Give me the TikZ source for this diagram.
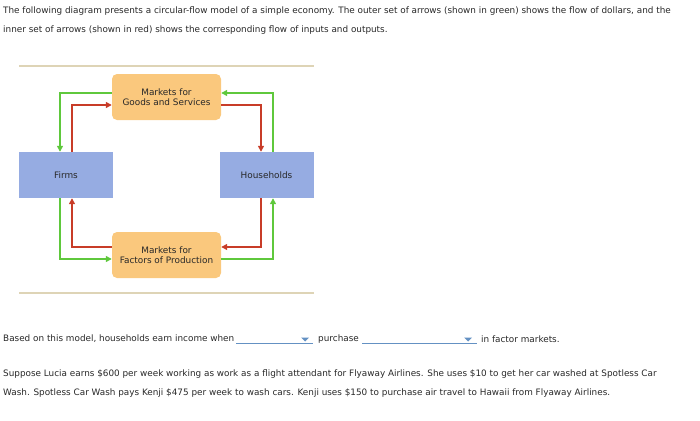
\documentclass[tikz,border=0pt]{standalone}
\usepackage{fontspec}
\setmainfont{DejaVu Sans}
\usetikzlibrary{arrows.meta}
\definecolor{sand}{RGB}{222,212,182}
\definecolor{boxor}{RGB}{250,200,125}
\definecolor{boxbl}{RGB}{150,172,226}
\definecolor{grn}{RGB}{95,200,60}
\definecolor{rd}{RGB}{200,60,40}
\definecolor{dd}{RGB}{100,145,195}
\definecolor{ink}{RGB}{40,40,40}
\tikzset{
 txt/.style={anchor=west,inner sep=0pt,text=ink,font=\fontsize{8.85}{10}\selectfont},
 mkt/.style={fill=boxor,rounded corners=5pt,minimum width=109pt,minimum height=46pt,align=center,text=ink,font=\fontsize{8.9}{10.5}\selectfont,inner sep=0pt},
 agent/.style={fill=boxbl,minimum width=94pt,minimum height=46pt,text=ink,font=\fontsize{8.9}{10}\selectfont,inner sep=0pt},
 gflow/.style={draw=grn,line width=1.4pt,-{Triangle[length=6pt,width=6pt]}},
 rflow/.style={draw=rd,line width=1.4pt,-{Triangle[length=6pt,width=6pt]}},
 sandline/.style={draw=sand,line width=2.4pt},
 ddline/.style={draw=dd,line width=0.7pt}
}
\begin{document}
\begin{tikzpicture}[x=1pt,y=-1pt]
\useasboundingbox (0,0) rectangle (700,420);
\node[txt] (t1) at (3,11) {The following diagram presents a circular-flow model of a simple economy. The outer set of arrows (shown in green) shows the flow of dollars, and the};
\node[txt] (t2) at (3,30) {inner set of arrows (shown in red) shows the corresponding flow of inputs and outputs.};
\draw[sandline] (19,66) -- (314,66);
\draw[sandline] (19,293) -- (314,293);
\node[mkt] (gs) at (166.5,97) {Markets for\\Goods and Services};
\node[mkt] (fp) at (166.5,255) {Markets for\\Factors of Production};
\node[agent] (firms) at (66,175) {Firms};
\node[agent] (hh) at (266.5,175) {Households};
% top left
\draw[gflow] (gs.west |- 0,93) -| (firms.north -| 60,0);
\draw[rflow] (firms.north -| 72,0) |- (gs.west |- 0,105);
% top right
\draw[rflow] (gs.east |- 0,105) -| (hh.north -| 261,0);
\draw[gflow] (hh.north -| 273,0) |- (gs.east |- 0,93);
% bottom left
\draw[rflow] (fp.west |- 0,247) -| (firms.south -| 72,0);
\draw[gflow] (firms.south -| 60,0) |- (fp.west |- 0,259);
% bottom right
\draw[rflow] (hh.south -| 261,0) |- (fp.east |- 0,247);
\draw[gflow] (fp.east |- 0,259) -| (hh.south -| 273,0);
% question line
\node[txt] (q1) at (3,339) {Based on this model, households earn income when};
\coordinate (d1a) at (236,343); \coordinate (d1b) at (313,343);
\draw[ddline] (d1a) -- (d1b);
\fill[dd] (301,337.5) -- (309,337.5) -- (305,341.5) -- cycle;
\node[txt] (q2) at (318,339) {purchase};
\coordinate (d2a) at (362,343); \coordinate (d2b) at (477,343);
\draw[ddline] (d2a) -- (d2b);
\fill[dd] (464,337.5) -- (472,337.5) -- (468,341.5) -- cycle;
\node[txt] (q3) at (481,339) {in factor markets.};
\node[txt] (s1) at (3,374) {Suppose Lucia earns \$600 per week working as work as a flight attendant for Flyaway Airlines. She uses \$10 to get her car washed at Spotless Car};
\node[txt] (s2) at (3,393) {Wash. Spotless Car Wash pays Kenji \$475 per week to wash cars. Kenji uses \$150 to purchase air travel to Hawaii from Flyaway Airlines.};
\end{tikzpicture}
\end{document}
